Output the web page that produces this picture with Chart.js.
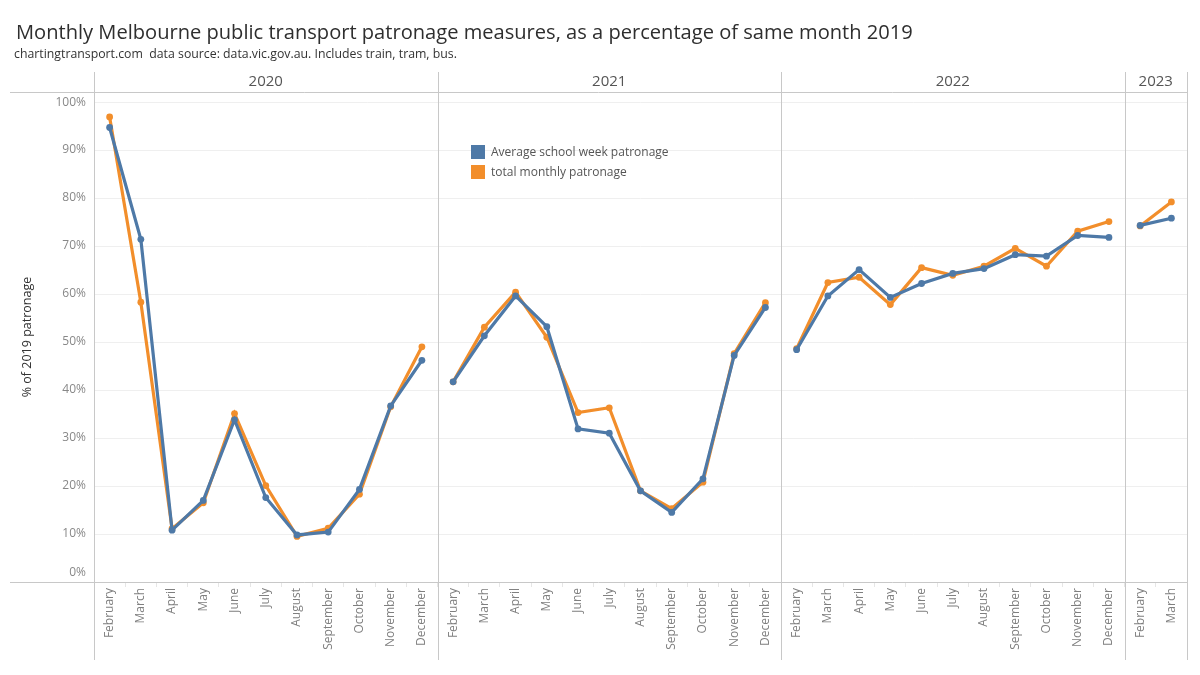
<!DOCTYPE html>
<html>
<head>
<meta charset="utf-8">
<script src="https://cdn.jsdelivr.net/npm/chart.js@4.4.1/dist/chart.umd.min.js"></script>
<style>
  html, body { margin: 0; padding: 0; background: #fff; }
  #wrap { position: relative; width: 1200px; height: 675px; overflow: hidden; }
  #chart { position: absolute; left: 0; top: 0; }
  .title { position: absolute; left: 16px; top: 18px; font-family: "Open Sans", sans-serif; font-size: 20.1px; color: #2e2e2e; white-space: nowrap; }
  .subtitle { position: absolute; left: 14px; top: 45px; font-family: "Open Sans", sans-serif; font-size: 12.3px; color: #333; white-space: nowrap; }
  .legend { position: absolute; left: 471px; top: 145px; font-family: "Open Sans", sans-serif; font-size: 12px; color: #555; }
  .legend div { height: 20px; line-height: 14px; white-space: nowrap; }
  .legend span.sw { display: inline-block; width: 14px; height: 14px; vertical-align: top; margin-right: 6px; }
</style>
</head>
<body>
<div id="wrap">
  <canvas id="chart" width="1200" height="675"></canvas>
  <div class="title">Monthly Melbourne public transport patronage measures, as a percentage of same month 2019</div>
  <div class="subtitle">chartingtransport.com&nbsp; data source: data.vic.gov.au. Includes train, tram, bus.</div>
  <div class="legend">
    <div><span class="sw" style="background:#4e79a7"></span>Average school week patronage</div>
    <div><span class="sw" style="background:#f28e2b"></span>total monthly patronage</div>
  </div>
</div>
<script>
// ---- data ----
const yearLabels = ['2020', '2021', '2022', '2023'];
const monthLabels = [
  'February','March','April','May','June','July','August','September','October','November','December',
  'February','March','April','May','June','July','August','September','October','November','December',
  'February','March','April','May','June','July','August','September','October','November','December',
  'February','March'
];
const yearOfMonth = [
  '2020','2020','2020','2020','2020','2020','2020','2020','2020','2020','2020',
  '2021','2021','2021','2021','2021','2021','2021','2021','2021','2021','2021',
  '2022','2022','2022','2022','2022','2022','2022','2022','2022','2022','2022',
  '2023','2023'
];
const schoolWeekPct = [
  94.7, 71.4, 10.8, 17.0, 33.8, 17.6, 9.8, 10.4, 19.3, 36.7, 46.2,
  41.7, 51.3, 59.6, 53.2, 31.9, 31.0, 19.0, 14.5, 21.5, 47.2, 57.2,
  48.4, 59.6, 65.1, 59.3, 62.2, 64.3, 65.3, 68.2, 67.9, 72.2, 71.8,
  74.3, 75.8
];
const totalMonthlyPct = [
  96.9, 58.3, 11.1, 16.5, 35.1, 20.1, 9.5, 11.2, 18.3, 36.5, 49.0,
  41.7, 53.1, 60.4, 51.0, 35.3, 36.3, 19.0, 15.3, 20.8, 47.6, 58.2,
  48.6, 62.4, 63.5, 57.8, 65.5, 63.9, 65.8, 69.5, 65.8, 73.1, 75.1,
  74.2, 79.2
];
const yTicks = [0, 10, 20, 30, 40, 50, 60, 70, 80, 90, 100];

const BLUE = '#4e79a7', ORANGE = '#f28e2b';
const FONT = '"Open Sans", sans-serif';
const LINE = '#c8c8c8';

const breakAtYear = ctx => yearOfMonth[ctx.p0DataIndex] !== yearOfMonth[ctx.p1DataIndex] ? 'rgba(0,0,0,0)' : undefined;

const decor = {
  id: 'decor',
  afterDraw(chart) {
    const { ctx, chartArea: a, scales: { x, y } } = chart;
    ctx.save();
    ctx.strokeStyle = LINE;
    ctx.lineWidth = 1;
    ctx.beginPath();
    ctx.moveTo(10, Math.round(a.top) + 0.5); ctx.lineTo(a.right, Math.round(a.top) + 0.5);
    ctx.moveTo(10, Math.round(a.bottom) + 0.5); ctx.lineTo(a.right, Math.round(a.bottom) + 0.5);
    ctx.stroke();
    const edges = [a.left];
    for (let i = 1; i < yearOfMonth.length; i++) {
      if (yearOfMonth[i] !== yearOfMonth[i - 1]) edges.push((x.getPixelForValue(i - 1) + x.getPixelForValue(i)) / 2);
    }
    edges.push(a.right);
    ctx.beginPath();
    edges.forEach(e => { const px = Math.round(e) + 0.5; ctx.moveTo(px, a.top - 20); ctx.lineTo(px, 660); });
    ctx.stroke();
    ctx.fillStyle = '#555';
    ctx.font = '15px ' + FONT;
    ctx.textAlign = 'center';
    ctx.textBaseline = 'middle';
    yearLabels.forEach((yl, k) => {
      ctx.fillText(yl, (edges[k] + edges[k + 1]) / 2, a.top - 10);
    });
    ctx.fillStyle = '#888';
    ctx.font = '12px ' + FONT;
    ctx.textAlign = 'right';
    ctx.fillText('0%', a.left - 8, y.getPixelForValue(0) - 9);
    ctx.restore();
  }
};

new Chart(document.getElementById('chart'), {
  type: 'line',
  data: {
    labels: monthLabels,
    datasets: [
      {
        label: 'Average school week patronage',
        data: schoolWeekPct,
        borderColor: BLUE, backgroundColor: BLUE,
        borderWidth: 3.2, pointRadius: 3.4, pointHoverRadius: 3.4, pointBorderWidth: 0,
        segment: { borderColor: breakAtYear }
      },
      {
        label: 'total monthly patronage',
        data: totalMonthlyPct,
        borderColor: ORANGE, backgroundColor: ORANGE,
        borderWidth: 3.2, pointRadius: 3.4, pointHoverRadius: 3.4, pointBorderWidth: 0,
        segment: { borderColor: breakAtYear }
      }
    ]
  },
  options: {
    responsive: false,
    animation: false,
    devicePixelRatio: 1,
    layout: { padding: { left: 10, top: 92, right: 13, bottom: 15 } },
    plugins: { legend: { display: false }, tooltip: { enabled: false }, title: { display: false } },
    scales: {
      x: {
        type: 'category',
        offset: true,
        afterFit(s) { s.height = 78; },
        border: { display: false },
        grid: { offset: true, drawOnChartArea: false, drawTicks: true, tickLength: 5, color: '#e6e6e6' },
        ticks: {
          autoSkip: false, maxRotation: 90, minRotation: 90, padding: 1,
          color: '#7f7f7f', font: { family: FONT, size: 12 }
        }
      },
      y: {
        min: 0, max: 102.1,
        afterFit(s) { s.width = 84; },
        afterBuildTicks(s) { s.ticks = yTicks.map(v => ({ value: v })); },
        border: { display: false },
        grid: { drawTicks: false, color: c => (c.tick && c.tick.value === 0) ? 'rgba(0,0,0,0)' : '#efefef' },
        ticks: {
          padding: 8, color: '#888', font: { family: FONT, size: 12 },
          callback: v => v === 0 ? '' : v + '%'
        },
        title: {
          display: true, text: '% of 2019 patronage', color: '#333',
          font: { family: FONT, size: 12.5 }, padding: { top: 10, bottom: 0 }
        }
      }
    }
  },
  plugins: [decor]
});
</script>
</body>
</html>
